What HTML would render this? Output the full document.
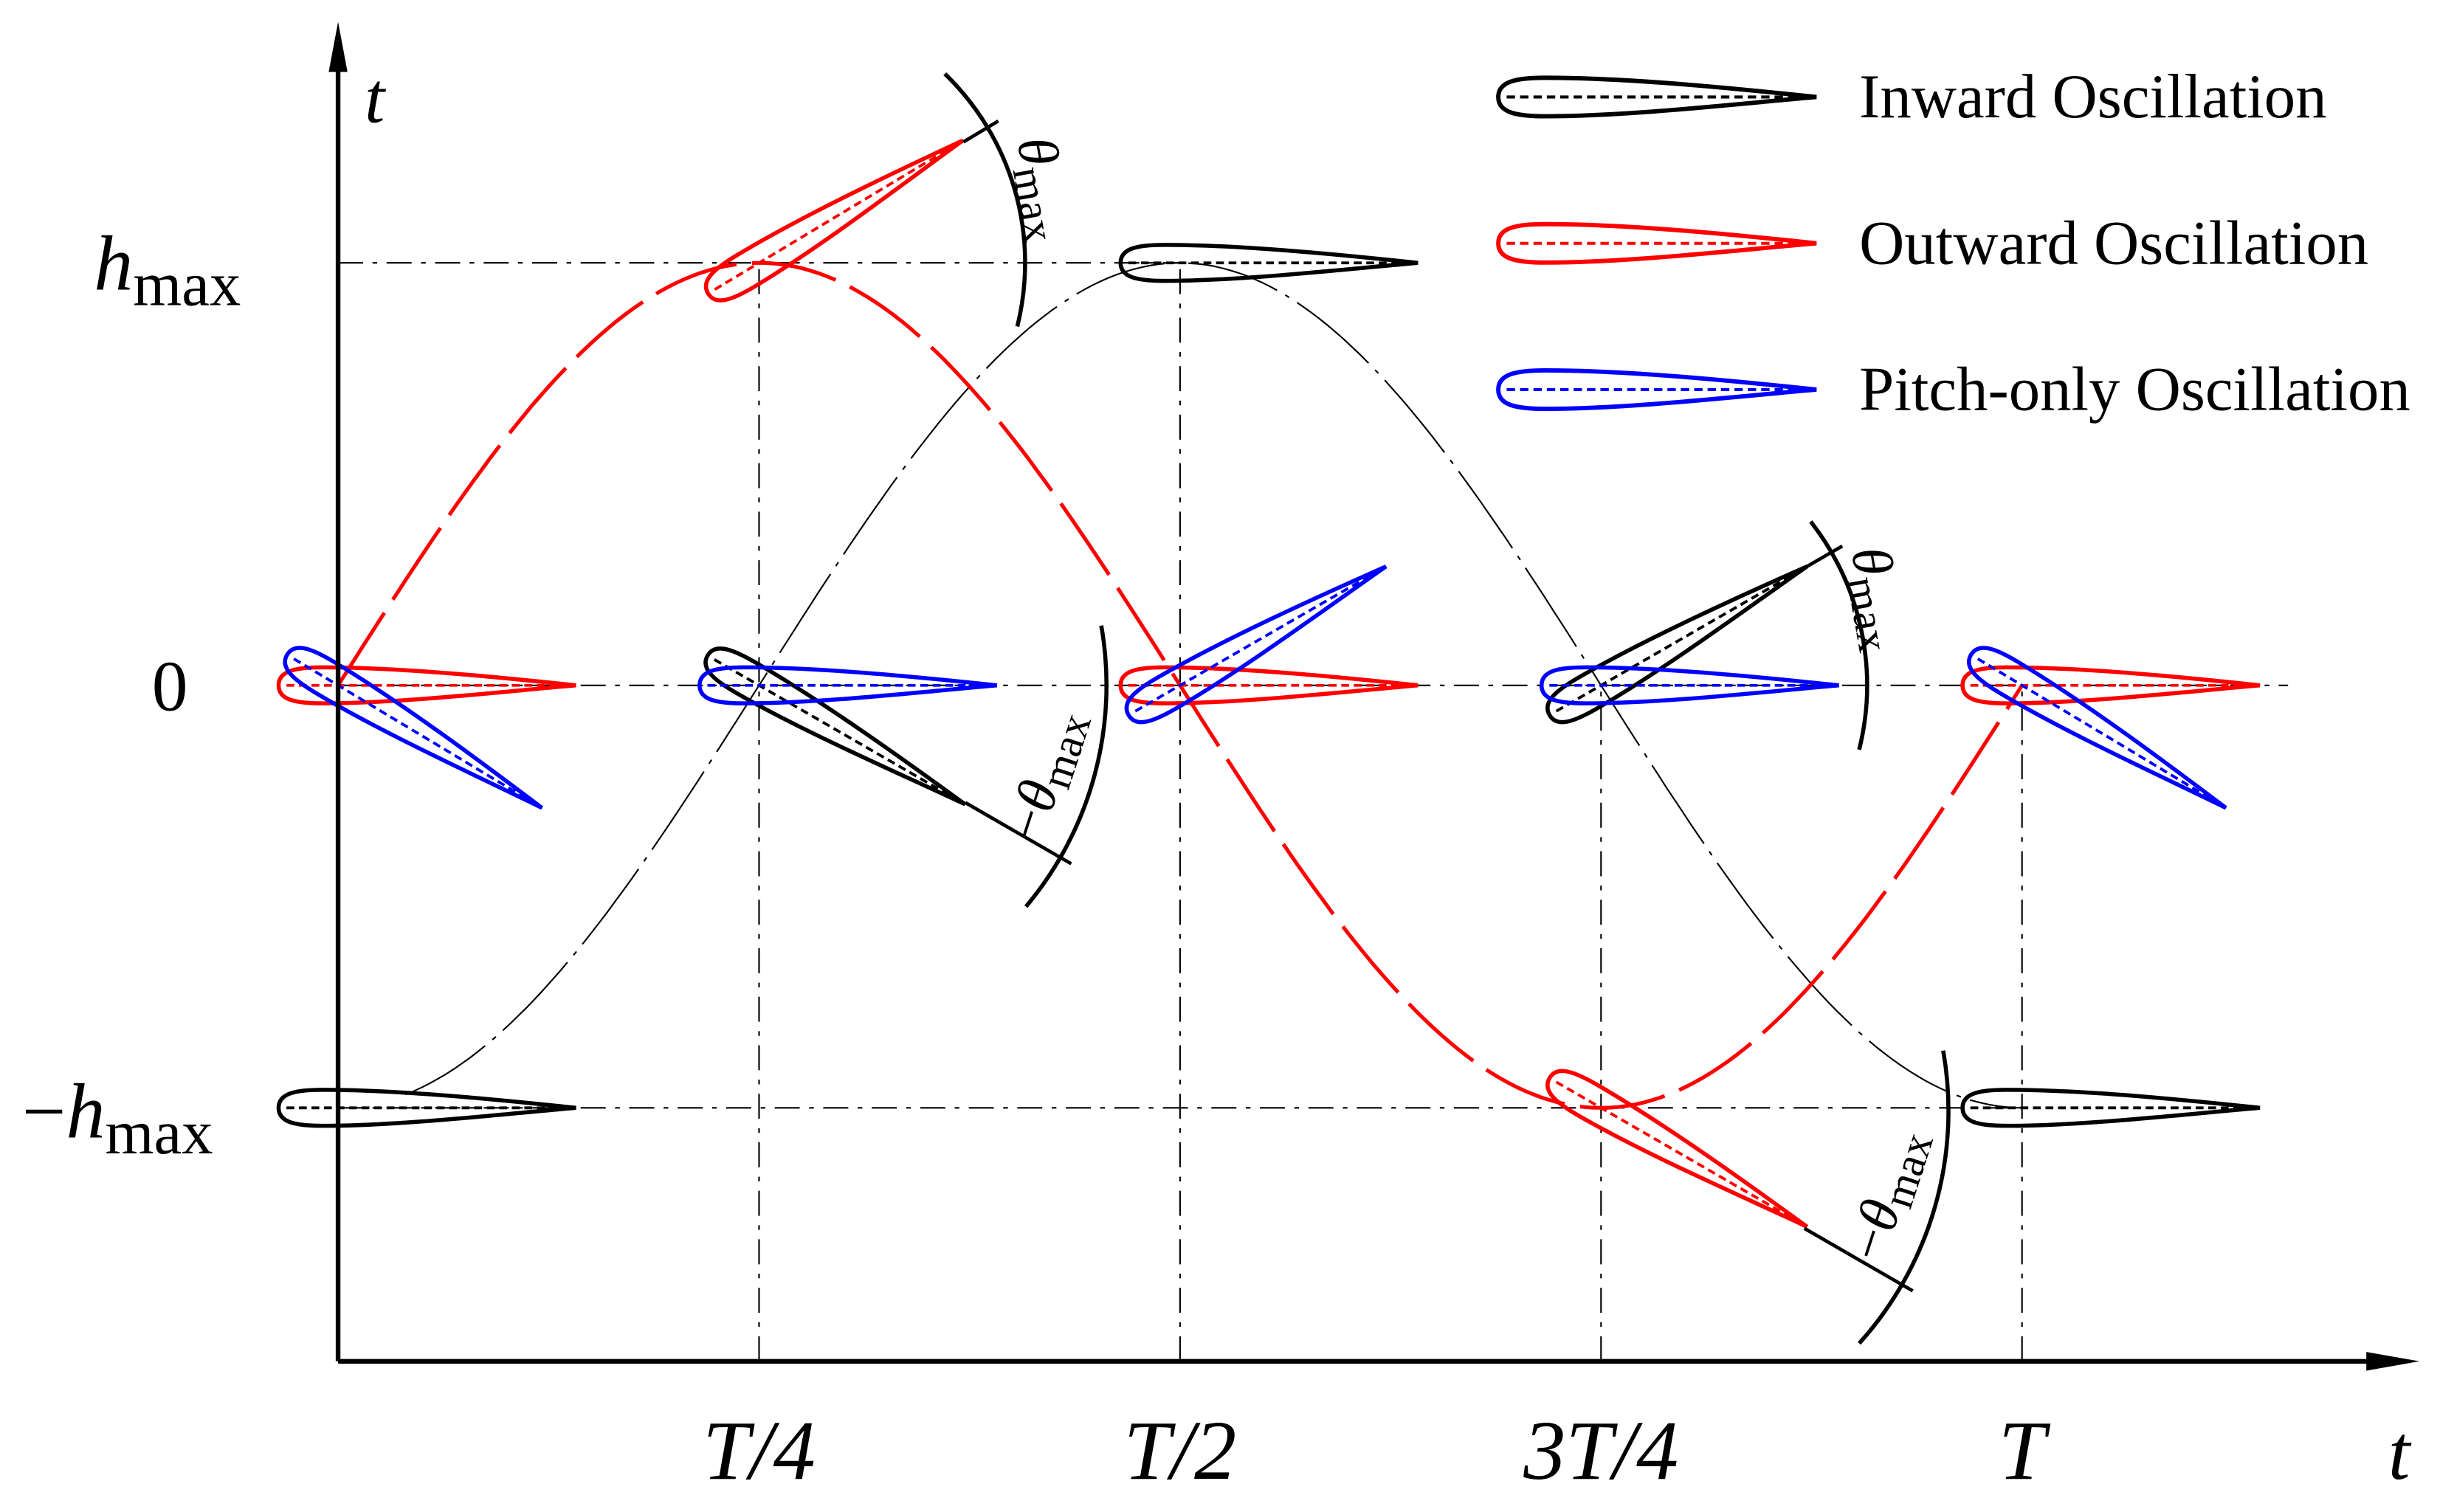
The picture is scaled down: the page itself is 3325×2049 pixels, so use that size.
<!DOCTYPE html>
<html><head><meta charset="utf-8"><style>
html,body{margin:0;padding:0;background:#fff;}
svg{display:block;}
text{font-family:"Liberation Serif",serif;}
</style></head><body>
<svg id="chart" width="3325" height="2049" viewBox="0 0 1568 966.3" xmlns="http://www.w3.org/2000/svg">
<g id="grid"></g>
<g id="curves"></g>
<g id="foils"></g>
<g id="axes">
<line x1="216" y1="870" x2="216" y2="40" stroke="#000" stroke-width="3"/>
<path d="M216,14 L210,46 L222,46 Z" fill="#000"/>
<line x1="216" y1="870" x2="1520" y2="870" stroke="#000" stroke-width="3"/>
<path d="M1546,870 L1512,864 L1512,876 Z" fill="#000"/>
<text x="233" y="78" font-size="46" font-style="italic">t</text>
<text x="1526" y="945" font-size="50" font-style="italic">t</text>
</g>
<g id="ylabels">
<text x="60" y="185" font-size="50"><tspan font-style="italic">h</tspan><tspan font-size="40" dy="10">max</tspan></text>
<text x="97" y="454" font-size="46">0</text>
<text x="14" y="727" font-size="50">−<tspan font-style="italic">h</tspan><tspan font-size="40" dy="10">max</tspan></text>
</g>
<g id="xlabels"></g>
<g id="angles"></g>
<g id="legend"></g>
</svg>
<script>
const NS="http://www.w3.org/2000/svg";
const tickFractions=[0.25,0.5,0.75,1];
const tickLabels=["T/4","T/2","3T/4","T"];
const keyTimes=[0,0.25,0.5,0.75,1];
const inwardH=[-1,0,1,0,-1];
const outwardH=[0,1,0,-1,0];
// airfoils: time, h, pitch angle deg (positive = trailing edge down), color
const foilTimes=[0,0,0,0.25,0.25,0.25,0.5,0.5,0.5,0.75,0.75,0.75,1,1,1];
const foilH=[0,0,-1,1,0,0,1,0,0,0,0,-1,0,0,-1];
const foilPitch=[0,31,0,-31,30,0,0,0,-30,-30,0,30,0,31,0];
const foilColor=["red","blue","black","red","black","blue","black","red","blue","black","blue","red","red","blue","black"];
const legendLabels=["Inward Oscillation","Outward Oscillation","Pitch-only Oscillation"];
const legendColors=["black","red","blue"];
const colorMap={black:"#000",red:"#f00",blue:"#00f"};

const X0=216,PERIOD=1076,Y0=438,AMP=270;
const xs=t=>X0+t*PERIOD;
const ys=h=>Y0-h*AMP;
function mk(tag,attrs,parent){const e=document.createElementNS(NS,tag);for(const k in attrs)e.setAttribute(k,attrs[k]);parent.appendChild(e);return e;}

const grid=document.getElementById('grid');
const dd="16 6 3 6";
let l;
l=mk('line',{x1:X0,y1:ys(1),x2:xs(0.5),y2:ys(1),stroke:"#000","stroke-width":1,"stroke-dasharray":dd},grid);

l=mk('line',{x1:X0,y1:ys(0),x2:xs(1)+170,y2:ys(0),stroke:"#000","stroke-width":1,"stroke-dasharray":dd},grid);

l=mk('line',{x1:X0,y1:ys(-1),x2:xs(1),y2:ys(-1),stroke:"#000","stroke-width":1,"stroke-dasharray":dd},grid);

const vTop=[1,1,0,0];
tickFractions.forEach((f,i)=>{
  const v=mk('line',{x1:xs(f),y1:870,x2:xs(f),y2:ys(vTop[i]),stroke:"#000","stroke-width":1,"stroke-dasharray":dd},grid);
  
});
const xl=document.getElementById('xlabels');
tickFractions.forEach((f,i)=>{
  const t=mk('text',{x:xs(f),y:945,"font-size":54,"font-style":"italic","text-anchor":"middle"},xl);
  
  t.textContent=tickLabels[i];
});
function curvePath(vals,t0){
  const A=vals[0],B=vals[1];let d="";
  for(let s=0;s<=200;s++){
    const t=t0+(1-t0)*s/200;
    const h=A*Math.cos(2*Math.PI*t)+B*Math.sin(2*Math.PI*t);
    d+=(d?"L":"M")+xs(t).toFixed(1)+","+ys(h).toFixed(1);
  }
  return d;
}
const cg=document.getElementById('curves');
let c=mk('path',{d:curvePath(inwardH,0.04),fill:"none",stroke:"#000","stroke-width":1,"stroke-dasharray":"60 6 3 6"},cg);

c=mk('path',{d:curvePath(outwardH,0),fill:"none",stroke:"#f00","stroke-width":2.4,"stroke-dasharray":"55 10"},cg);


const foilD="M-38,0 C-38,-9 -28,-11.5 -10,-11.5 C40,-11.5 105,-5 152,0 C105,4 40,11.5 -10,11.5 C-28,11.5 -38,9 -38,0 Z";
function foil(parent,x,y,ang,col,scale){
  const g=mk('g',{transform:`translate(${x},${y}) rotate(${ang}) scale(${scale||1})`},parent);
  mk('path',{d:foilD,fill:"none",stroke:colorMap[col],"stroke-width":2.6},g);
  mk('line',{x1:-33,y1:0,x2:140,y2:0,stroke:colorMap[col],"stroke-width":1.8,"stroke-dasharray":"5 3"},g);
  return g;
}
const fg=document.getElementById('foils');
foilTimes.forEach((t,i)=>{
  const g=foil(fg,xs(t),ys(foilH[i]),foilPitch[i],foilColor[i]);
  
  
});

const ag=document.getElementById('angles');
function arcAnn(cx,cy,r,a1,a2,extAng,label,lx,ly,rot){
  const p=(a,rr)=>[cx+rr*Math.cos(a*Math.PI/180),cy+rr*Math.sin(a*Math.PI/180)];
  const [x1,y1]=p(a1,r),[x2,y2]=p(a2,r);
  const g=mk('g',{},ag);
  
  mk('path',{d:`M${x1},${y1} A${r},${r} 0 0 1 ${x2},${y2}`,fill:"none",stroke:"#000","stroke-width":2.6},g);
  const [sx,sy]=p(extAng,150),[ex,ey]=p(extAng,r+8);
  mk('line',{x1:sx,y1:sy,x2:ex,y2:ey,stroke:"#000","stroke-width":2.2},g);
  const t=mk('text',{x:lx,y:ly,"font-size":36,transform:`rotate(${rot} ${lx} ${ly})`},g);
  t.innerHTML=label;
}
arcAnn(487,168,168,-46,14,-31,'<tspan font-style="italic">θ</tspan><tspan font-size="28" dy="6">max</tspan>',650,90,80);
arcAnn(487,438,220,-10,40,30,'−<tspan font-style="italic">θ</tspan><tspan font-size="28" dy="6">max</tspan>',665,540,-72);
arcAnn(1023,438,170,-38,14,-30,'<tspan font-style="italic">θ</tspan><tspan font-size="28" dy="6">max</tspan>',1183,352,80);
arcAnn(1023,710,222,-10,42,30,'−<tspan font-style="italic">θ</tspan><tspan font-size="28" dy="6">max</tspan>',1203,808,-72);

const lg=document.getElementById('legend');
legendLabels.forEach((lab,i)=>{
  const y=62+i*93.5;
  const e=mk('g',{},lg);
  
  foil(e,998,y,0,legendColors[i],1.07);
  const t=mk('text',{x:1188,y:y+13,"font-size":40},e);
  t.textContent=lab;
});
</script>
</body></html>
